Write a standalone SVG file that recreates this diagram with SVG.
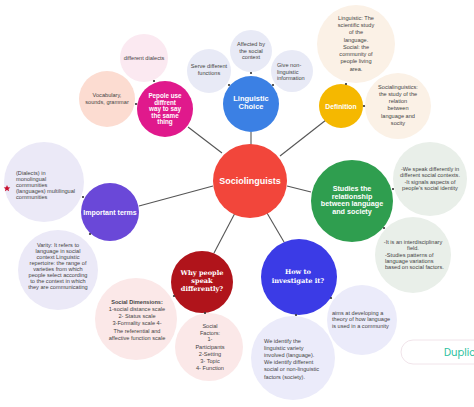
<svg xmlns="http://www.w3.org/2000/svg" width="474" height="407" viewBox="0 0 474 407">
<style>
.t{font-family:"Liberation Sans",Arial,sans-serif;font-size:5.6px;fill:#444;text-anchor:middle}
.l{text-anchor:start}
.w{font-family:"Liberation Sans",Arial,sans-serif;font-weight:bold;fill:#fff;text-anchor:middle}
.s{font-family:"DejaVu Serif","Liberation Serif",serif;font-weight:bold;fill:#fff;text-anchor:middle;font-size:6.6px}
.c line{stroke:#555;stroke-width:1.1}
.dot{fill:#333}
</style>
<rect width="474" height="407" fill="#fff"/>
<g class="c" id="connectors">
<line x1="188" y1="127" x2="222" y2="153"/>
<line x1="251" y1="132" x2="251" y2="145"/>
<line x1="326" y1="120" x2="280" y2="156"/>
<line x1="139" y1="206" x2="213" y2="186"/>
<line x1="287" y1="186" x2="311" y2="192"/>
<line x1="235" y1="213" x2="214" y2="253"/>
<line x1="267" y1="213" x2="284" y2="242"/>
</g>
<g id="n-dialects"><circle cx="144" cy="58" r="24" fill="#fbe9f1"/><text class="t" x="144" y="60" font-size="6.2">different dialects</text></g>
<g id="n-vocab"><circle cx="107" cy="99" r="28" fill="#fcdcd1"/><text class="t" font-size="6.2"><tspan x="107" y="97">Vocabulary,</tspan><tspan x="107" y="104">sounds, grammar</tspan></text></g>
<g id="n-serve"><circle cx="209" cy="71" r="22" fill="#e8eaf6"/><text class="t" fill="#556"><tspan x="209" y="68">Serve different</tspan><tspan x="209" y="75">functions</tspan></text></g>
<g id="n-affected"><circle cx="251" cy="51" r="21" fill="#e8eaf6"/><text class="t"><tspan x="251" y="46">Affected by</tspan><tspan x="251" y="52.5">the social</tspan><tspan x="251" y="59">context</tspan></text></g>
<g id="n-give"><circle cx="292" cy="71" r="21" fill="#e8eaf6"/><text class="t l"><tspan x="277" y="67">Give non-</tspan><tspan x="277" y="73.5">linguistic</tspan><tspan x="277" y="80">information</tspan></text></g>
<g id="n-lingdef"><circle cx="356" cy="44" r="39" fill="#fbf1e6"/><text class="t"><tspan x="356" y="20">Linguistic: The</tspan><tspan x="356" y="27">scientific study</tspan><tspan x="356" y="34">of the</tspan><tspan x="356" y="42">language.</tspan><tspan x="356" y="49">Social: the</tspan><tspan x="356" y="56">community of</tspan><tspan x="356" y="63">people living</tspan><tspan x="356" y="71">area.</tspan></text></g>
<g id="n-socdef"><circle cx="398" cy="106" r="33" fill="#fbf1e6"/><text class="t"><tspan x="398" y="89">Socialinguistics:</tspan><tspan x="398" y="96">the study of the</tspan><tspan x="398" y="103">relation</tspan><tspan x="398" y="110">between</tspan><tspan x="398" y="118">language and</tspan><tspan x="398" y="125">socity</tspan></text></g>
<g id="n-dialterms"><circle cx="44" cy="182" r="40" fill="#ebe9f7"/><text class="t l"><tspan x="16" y="175">(Dialects) in</tspan><tspan x="16" y="181">monolingual</tspan><tspan x="16" y="187">communities</tspan><tspan x="16" y="193">(languages) multilingual</tspan><tspan x="16" y="199">communities</tspan></text><path d="M7,185 l1,2.2 2.3,0.2 -1.8,1.5 0.6,2.3 -2.1,-1.3 -2.1,1.3 0.6,-2.3 -1.8,-1.5 2.3,-0.2z" fill="#c8102e"/></g>
<g id="n-varity"><circle cx="58" cy="270" r="40" fill="#ebe9f7"/><text class="t" font-size="5.4"><tspan x="58" y="247">Varity: It refers to</tspan><tspan x="58" y="253">language in social</tspan><tspan x="58" y="259">context Linguistic</tspan><tspan x="58" y="265">repertoire: the range of</tspan><tspan x="58" y="271">varieties from which</tspan><tspan x="58" y="277">people select according</tspan><tspan x="58" y="283">to the context in which</tspan><tspan x="58" y="289">they are communicating</tspan></text></g>
<g id="n-speak"><circle cx="430" cy="179" r="37" fill="#e9efe9"/><text class="t"><tspan x="430" y="171">-We speak differently in</tspan><tspan x="430" y="177">different social contexts.</tspan><tspan x="430" y="184">-It signals aspects of</tspan><tspan x="430" y="190">people's social identity</tspan></text></g>
<g id="n-interdis"><circle cx="413" cy="255" r="38" fill="#e9efe9"/><text class="t"><tspan x="413" y="244">-It is an interdisciplinary</tspan><tspan x="413" y="250">field.</tspan></text><text class="t l"><tspan x="385" y="257">-Studies patterns of</tspan><tspan x="385" y="263">language variations</tspan><tspan x="385" y="269">based on social factors.</tspan></text></g>
<g id="n-aims"><circle cx="362" cy="320" r="35" fill="#ebebfa"/><text class="t l"><tspan x="332" y="315">aims at developing a</tspan><tspan x="332" y="321">theory of how language</tspan><tspan x="332" y="327.5">is used in a community</tspan></text></g>
<g id="n-identify"><circle cx="293" cy="358" r="42" fill="#ebebfa"/><text class="t l" font-size="6"><tspan x="264" y="343">We identify the</tspan><tspan x="264" y="350">linguistic variety</tspan><tspan x="264" y="357">involved (language).</tspan><tspan x="264" y="364">We identify different</tspan><tspan x="264" y="371">social or non-linguistic</tspan><tspan x="264" y="379">factors (society).</tspan></text></g>
<g id="n-dimensions"><circle cx="136" cy="319" r="41" fill="#fbe8e8"/><text class="t" font-size="6"><tspan x="137" y="304" font-weight="bold">Social Dimensions:</tspan><tspan x="137" y="311">1-social distance scale</tspan><tspan x="137" y="318">2- Status scale</tspan><tspan x="137" y="325">3-Formality scale 4-</tspan><tspan x="137" y="333">The referential and</tspan><tspan x="137" y="340">affective function scale</tspan></text></g>
<g id="n-factors"><circle cx="209" cy="347" r="34" fill="#fbe8e8"/><text class="t" font-size="6"><tspan x="210" y="328">Social</tspan><tspan x="210" y="334.5">Factors:</tspan><tspan x="210" y="341">1-</tspan><tspan x="210" y="349">Participants</tspan><tspan x="210" y="355.5">2-Setting</tspan><tspan x="210" y="363">3- Topic</tspan><tspan x="210" y="370">4- Function</tspan></text></g>
<g id="n-center"><circle cx="250" cy="181" r="37" fill="#f2463b"/><text class="w" x="250" y="184" font-size="9">Sociolinguists</text></g>
<g id="n-choice"><circle cx="251" cy="104" r="28" fill="#3b80e4"/><text class="w" font-size="7.5"><tspan x="251" y="101">Linguistic</tspan><tspan x="251" y="109">Choice</tspan></text></g>
<g id="n-people"><circle cx="165" cy="109" r="28" fill="#e0198c"/><text class="w" font-size="6.3"><tspan x="165" y="98">Pepole use</tspan><tspan x="165" y="104.5">diffrent</tspan><tspan x="165" y="111">way to say</tspan><tspan x="165" y="117.5">the same</tspan><tspan x="165" y="124">thing</tspan></text></g>
<g id="n-definition"><circle cx="341" cy="106" r="22" fill="#f5b800"/><text class="w" x="341" y="108.5" font-size="6.8">Definition</text></g>
<g id="n-terms"><circle cx="110" cy="212" r="29" fill="#6a48d8"/><text class="w" x="110" y="214.5" font-size="7">Important terms</text></g>
<g id="n-studies"><circle cx="352" cy="201" r="41" fill="#2f9e4f"/><text class="w" font-size="7.2"><tspan x="352" y="191">Studies the</tspan><tspan x="352" y="198.5">relationship</tspan><tspan x="352" y="206">between language</tspan><tspan x="352" y="213.5">and society</tspan></text></g>
<g id="n-why"><circle cx="202" cy="282" r="31" fill="#b0141b"/><text class="s"><tspan x="202" y="275">Why people</tspan><tspan x="202" y="282.5">speak</tspan><tspan x="202" y="290.5">differently?</tspan></text></g>
<g id="n-how"><circle cx="299" cy="277" r="38" fill="#3b3be6"/><text class="s" font-size="7"><tspan x="298" y="274">How to</tspan><tspan x="298" y="283">investigate it?</tspan></text></g>
<g id="marks">
<circle class="dot" cx="154" cy="81" r="1.1"/><circle class="dot" cx="136" cy="104" r="1.1"/><circle class="dot" cx="229" cy="85" r="1.1"/><circle class="dot" cx="251" cy="73" r="1.1"/><circle class="dot" cx="273" cy="85" r="1.1"/><circle class="dot" cx="346" cy="84" r="1.1"/><circle class="dot" cx="364" cy="106" r="1.1"/><circle class="dot" cx="83" cy="197" r="1.1"/><circle class="dot" cx="90" cy="234" r="1.1"/><circle class="dot" cx="393" cy="189" r="1.1"/><circle class="dot" cx="384" cy="228" r="1.1"/><circle class="dot" cx="174" cy="296" r="1.1"/><circle class="dot" cx="205" cy="313" r="1.1"/><circle class="dot" cx="296" cy="315" r="1.1"/><circle class="dot" cx="331" cy="298" r="1.1"/>
</g>
<g id="btn"><rect x="401" y="340" width="110" height="24" rx="12" fill="#fff" stroke="#f1e4ea" stroke-width="1"/><text x="444" y="356" font-family="Poppins,'Open Sans',sans-serif" font-size="10" fill="#2cbf9e">Duplic</text></g>
</svg>
